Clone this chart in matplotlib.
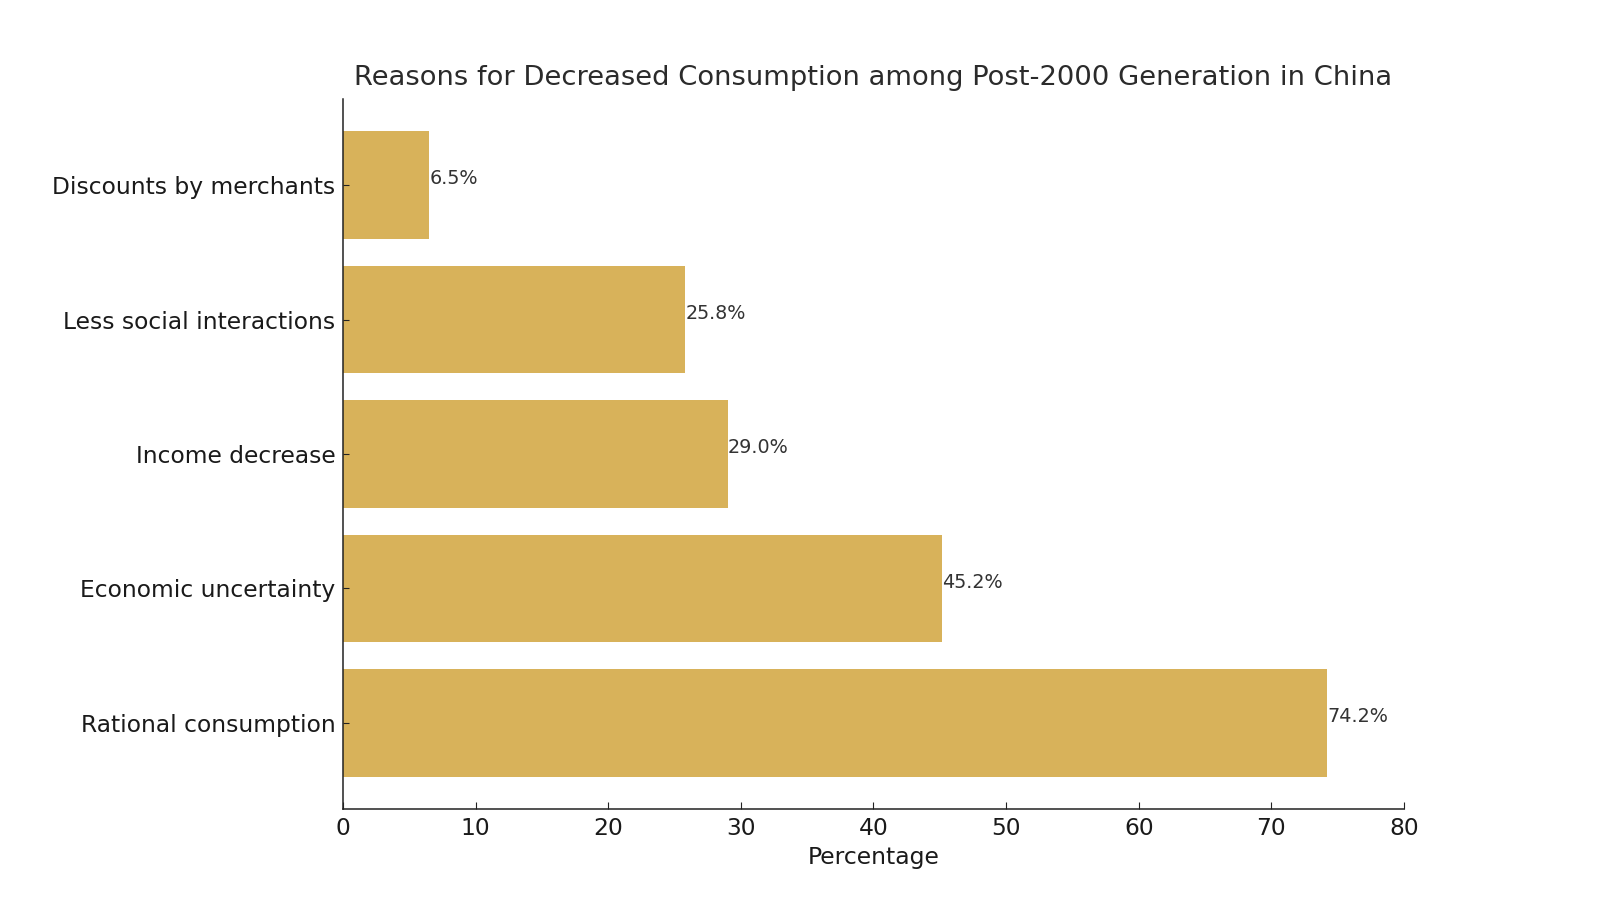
import matplotlib
matplotlib.use("Agg")
import matplotlib.pyplot as plt

categories = ["Rational consumption", "Economic uncertainty", "Income decrease",
              "Less social interactions", "Discounts by merchants"]
values = [74.2, 45.2, 29.0, 25.8, 6.5]
xticks = [0, 10, 20, 30, 40, 50, 60, 70, 80]

plt.rcParams['font.family'] = ['DejaVu Sans']
fig = plt.figure(figsize=(15.98, 9.22), dpi=100)
ax = fig.add_axes([0.2146, 0.1226, 0.8786 - 0.2146, 0.8926 - 0.1226])

bars = ax.barh(categories, values, color="#D8B25A", height=0.8)
for b, v in zip(bars, values):
    ax.annotate(f"{v:.1f}%", (b.get_width(), b.get_y() + b.get_height() / 2),
                xytext=(0, 4.5), textcoords="offset points",
                va="center", ha="left", fontsize=13.8, color="#333333")

ax.set_xlim(0, 80)
ax.set_xticks(xticks)
ax.set_xlabel("Percentage", fontsize=16.9, color="#1a1a1a", labelpad=4)
ax.set_title("Reasons for Decreased Consumption among Post-2000 Generation in China",
             fontsize=19.7, color="#2b2b2b", pad=10)
ax.spines["top"].set_visible(False)
ax.spines["right"].set_visible(False)
for s in ("left", "bottom"):
    ax.spines[s].set_linewidth(1.1)
    ax.spines[s].set_color("#222222")
ax.tick_params(axis="both", direction="in", labelsize=16.85, labelcolor="#1a1a1a",
               color="#222222")
ax.tick_params(axis="x", length=5, pad=6)
ax.tick_params(axis="y", length=4, pad=5.5)

fig.savefig("out.png", dpi=100)
